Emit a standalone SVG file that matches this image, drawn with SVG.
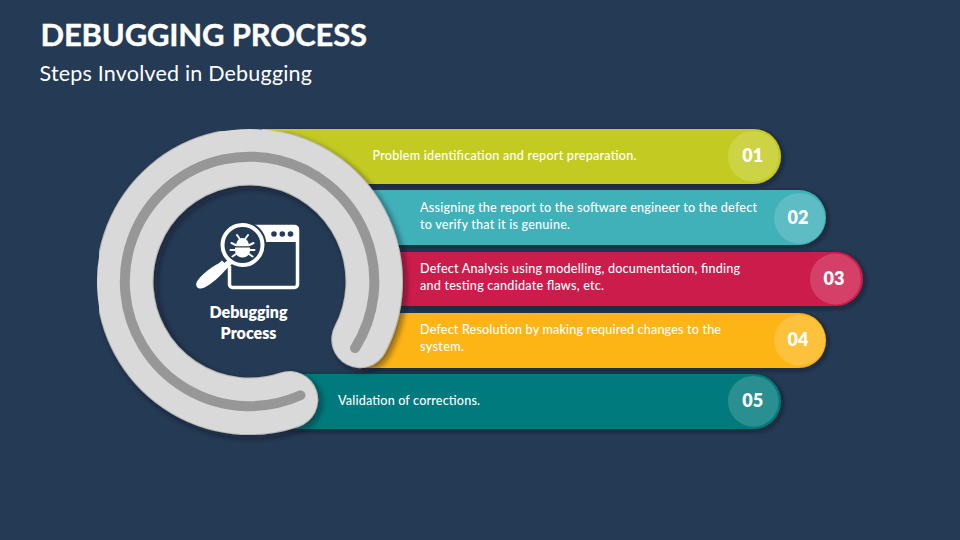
<svg xmlns="http://www.w3.org/2000/svg" width="960" height="540" viewBox="0 0 960 540">
<defs>
<filter id="sh" x="-10%" y="-30%" width="120%" height="160%"><feDropShadow dx="2" dy="2" stdDeviation="2.5" flood-color="#0b1520" flood-opacity=".6"/></filter>
<filter id="rsh" x="-10%" y="-10%" width="125%" height="125%"><feDropShadow dx="3" dy="3" stdDeviation="3" flood-color="#0b1520" flood-opacity=".55"/></filter>
</defs>
<style>
text{font-family:"Lato","Carlito","Liberation Sans",sans-serif;fill:#fff}
.t{font-size:12.6px;font-weight:500}
.n{font-size:18px;font-weight:800;text-anchor:middle}
.c{font-size:16px;font-weight:800;text-anchor:middle}
.num{fill:#fff;fill-opacity:.16}
</style>
<rect width="960" height="540" fill="#253a54"/>
<text x="40.500" y="46" font-size="31" font-weight="700" stroke="#fff" stroke-width=".4" textLength="326.500">DEBUGGING PROCESS</text>
<text x="39.500" y="81" font-size="21.500" textLength="272.500">Steps Involved in Debugging</text>

<g id="step-01">
<path d="M262 129H753.500a27.500 27.500 0 0 1 0 55H262z" fill="#c3cb20" filter="url(#sh)"/>
<circle class="num" cx="753.300" cy="156.300" r="25.400"/>
<text class="t" x="372.500" y="160" textLength="264">Problem identification and report preparation.</text>
<text class="n" x="752.700" y="161.500">01</text>
</g>
<g id="step-02">
<path d="M350 190H798.500a27.500 27.500 0 0 1 0 55H350z" fill="#3fb0b9" filter="url(#sh)"/>
<circle class="num" cx="799.500" cy="218.300" r="25.400"/>
<text class="t" x="420" y="212" textLength="337">Assigning the report to the software engineer to the defect</text>
<text class="t" x="420" y="229" textLength="150">to verify that it is genuine.</text>
<text class="n" x="798" y="224">02</text>
</g>
<g id="step-03">
<path d="M370 252H836a27 27 0 0 1 0 54H370z" fill="#cc1a4b" filter="url(#sh)"/>
<circle class="num" cx="835.300" cy="279" r="25.400"/>
<text class="t" x="420" y="273" textLength="320">Defect Analysis using modelling, documentation, finding</text>
<text class="t" x="420" y="290" textLength="184">and testing candidate flaws, etc.</text>
<text class="n" x="834" y="285">03</text>
</g>
<g id="step-04">
<path d="M360 313H798.500a27.500 27.500 0 0 1 0 55H360z" fill="#fdb515" filter="url(#sh)"/>
<circle class="num" cx="799.500" cy="340.300" r="25.400"/>
<text class="t" x="420" y="334" textLength="301">Defect Resolution by making required changes to the</text>
<text class="t" x="420" y="351" textLength="44">system.</text>
<text class="n" x="798" y="346">04</text>
</g>
<g id="step-05">
<path d="M285 374H753.500a27.500 27.500 0 0 1 0 55H285z" fill="#007a7c" filter="url(#sh)"/>
<circle class="num" cx="753.300" cy="401.300" r="25.400"/>
<text class="t" x="338" y="405" textLength="142">Validation of corrections.</text>
<text class="n" x="752.700" y="407">05</text>
</g>

<g id="ring" fill="none" stroke-linecap="round">
<g filter="url(#rsh)">
<path d="M360 339.400A124.750 124.750 0 1 0 289.500 399.700" stroke="#b8b8b8" stroke-width="57.500"/>
</g>
<path d="M360 339.400A124.750 124.750 0 1 0 289.500 399.700" stroke="#d9d9d9" stroke-width="55.500"/>
<path d="M355 348.100A124.750 124.750 0 1 0 300.500 395.300" stroke="#979797" stroke-width="10"/>
</g>

<g id="center">
<rect x="229.500" y="226.500" width="68" height="61" rx="3" fill="none" stroke="#fff" stroke-width="3.500"/>
<path d="M232 226h64a3 3 0 0 1 3 3v13h-70v-13a3 3 0 0 1 3-3z" fill="#fff"/>
<g fill="#253a54"><circle cx="274" cy="234" r="2.800"/><circle cx="282.300" cy="234" r="2.800"/><circle cx="290.500" cy="234" r="2.800"/></g>
<circle cx="242.500" cy="245" r="24" fill="#253a54"/>
<circle cx="242.500" cy="245" r="20" fill="#253a54" stroke="#fff" stroke-width="4"/>
<path d="M228.500 259.500l4 4-4.500 4.500-4.500-4.500z" fill="#fff"/>
<path d="M222 260.500l6.500 6.500-3 3c-5 6-14 14-21 17.500-3 1.500-6 1.500-7.500-.5-1.500-2-1-4.500 1-7 5-6.500 13-12.500 20.500-16.500z" fill="#fff"/>
<g fill="#fff">
<path d="M235 247.500h15v2.500c0 4.500-3 7.500-7.500 7.500s-7.500-3-7.500-7.500z"/>
<path d="M236 246.300c0-5 3-8.300 6.500-8.300s6.500 3.300 6.500 8.300z"/>
</g>
<g fill="none" stroke="#fff" stroke-width="2" stroke-linecap="round">
<path d="M239.500 238.500l-2.500-3.500M245.500 238.500l2.500-3.500M235.500 245l-4-2M249.500 245l4-2M235 250h-4.500M250 250h4.500M236 254l-3.500 2.500M249 254l3.500 2.500"/>
</g>
<text class="c" x="248.500" y="318">Debugging</text>
<text class="c" x="248.500" y="339">Process</text>
</g>
</svg>
